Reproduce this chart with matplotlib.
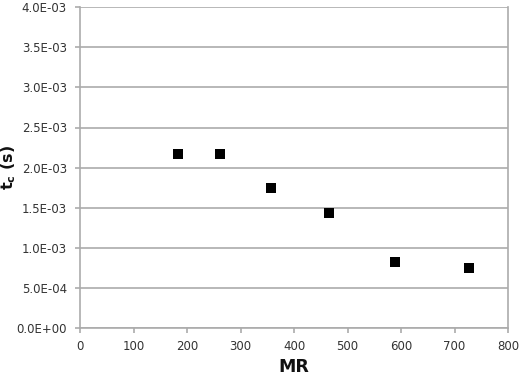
import matplotlib
matplotlib.use("Agg")
import matplotlib.pyplot as plt
from matplotlib.ticker import FuncFormatter, MultipleLocator

mr = [183, 262, 357, 466, 589, 727]
tc = [2.168e-3, 2.165e-3, 1.748e-3, 1.429e-3, 0.822e-3, 0.751e-3]

plt.rcParams['font.family'] = ['DejaVu Sans']

fig = plt.figure(figsize=(5.2, 3.75), dpi=100)
ax = fig.add_axes([0.154, 0.125, 0.823, 0.856])

ax.scatter(mr, tc, marker='s', s=42, color='black', zorder=3, linewidths=0)

ax.set_xlim(0, 800)
ax.set_ylim(0, 4.0e-3)
ax.xaxis.set_major_locator(MultipleLocator(100))
ax.yaxis.set_major_locator(MultipleLocator(5e-4))

def fmt(v, pos):
    return "%.1E" % v
ax.yaxis.set_major_formatter(FuncFormatter(fmt))

ax.grid(axis='y', color='#ababab', linewidth=1.2)
ax.set_axisbelow(True)
for side in ['left', 'bottom', 'right']:
    ax.spines[side].set_color('#ababab')
    ax.spines[side].set_linewidth(1.2)
ax.spines['top'].set_visible(False)

ax.tick_params(axis='both', colors='#ababab', labelcolor='#333333', labelsize=8.5, length=3.5, width=1.2)
ax.tick_params(axis='y', pad=6)
ax.tick_params(axis='x', pad=5)

ax.set_xlabel('MR', fontsize=12.5, fontweight='bold', labelpad=4, color='#111111')
ax.set_ylabel(r'$\mathbf{t_c}$ (s)', fontsize=11.5, fontweight='bold', color='#111111')
ax.yaxis.set_label_coords(-0.146, 0.5)

fig.savefig('out.png', dpi=100)
